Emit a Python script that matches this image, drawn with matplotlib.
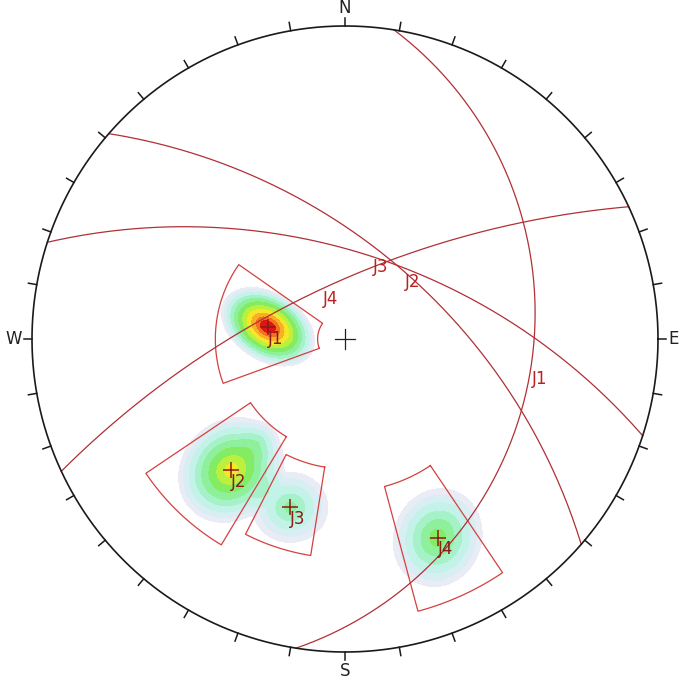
import numpy as np
import matplotlib.pyplot as plt

# joint sets: mean poles (trend / plunge, degrees)
sets = ['J1', 'J2', 'J3', 'J4']
pole_trend = [279, 221, 198, 155]
pole_plunge = [62, 32, 31, 20]

# set windows (trend range, plunge range)
win_trend_min = [250, 211, 189, 146]
win_trend_max = [305, 236, 207, 165]
win_plunge_min = [45, 15, 20, 6]
win_plunge_max = [80, 50, 45, 38]

# pole concentrations used for the density contours
# (centre trend/plunge, reach along / across the long axis in primitive radii)
dens_trend = [279, 221, 220, 198, 155]
dens_plunge = [62, 32, 44, 31, 20]
dens_reach_major = [0.168, 0.190, 0.085, 0.134, 0.172]
dens_reach_minor = [0.112, 0.165, 0.065, 0.125, 0.152]
dens_axis = [122, 45, 45, 90, 20]
dens_weight = [1.08, 0.70, 0.09, 0.38, 0.50]

levels = [0.04, 0.1, 0.17, 0.25, 0.33, 0.42, 0.52, 0.62, 0.72, 0.82, 0.92, 5]
band_colors = ['#e9ecf4', '#d8eef2', '#c3f2e8', '#a6f2c8', '#8ef09a', '#84ec62',
               '#bdf03c', '#f6e828', '#f8b028', '#f4701e', '#e01410']

gc_color = '#b03036'
win_color = '#d4403f'


def proj(trend, plunge):
    # equal angle, lower hemisphere
    t = np.radians(trend)
    r = np.tan(np.radians(90 - np.asarray(plunge)) / 2)
    return r * np.sin(t), r * np.cos(t)


def great_circle(dipdir, dip):
    a = np.linspace(0, np.pi, 200)
    dd, d = np.radians(dipdir), np.radians(dip)
    s = np.array([np.sin(dd - np.pi / 2), np.cos(dd - np.pi / 2), 0.0])
    dv = np.array([np.sin(dd) * np.cos(d), np.cos(dd) * np.cos(d), -np.sin(d)])
    v = np.outer(np.cos(a), s) + np.outer(np.sin(a), dv)
    return v[:, 0] / (1 - v[:, 2]), v[:, 1] / (1 - v[:, 2])


fig = plt.figure(figsize=(6.85, 6.83), dpi=100)
ax = fig.add_axes([0, 0, 1, 1])
ax.set_xlim(-345 / 313, 340 / 313)
ax.set_ylim(-344 / 313, 339 / 313)
ax.axis('off')

# density
g = np.linspace(-1, 1, 800)
X, Y = np.meshgrid(g, g)
Z = np.zeros_like(X)
for t, p, sa, sb, ang, w in zip(dens_trend, dens_plunge, dens_reach_major,
                                dens_reach_minor, dens_axis, dens_weight):
    cx, cy = proj(t, p)
    ua = np.radians(ang)
    u = (X - cx) * np.sin(ua) + (Y - cy) * np.cos(ua)
    v = (X - cx) * np.cos(ua) - (Y - cy) * np.sin(ua)
    d = np.sqrt((u / sa) ** 2 + (v / sb) ** 2)
    Z += w * np.clip(1 - d, 0, None)
Z[X ** 2 + Y ** 2 > 1] = np.nan
ax.contourf(X, Y, Z, levels=levels, colors=band_colors, zorder=1)

# primitive circle and ticks
th = np.linspace(0, 2 * np.pi, 500)
ax.plot(np.cos(th), np.sin(th), color='#1a1a1a', lw=1.2, zorder=5)
for az in range(0, 360, 10):
    a = np.radians(az)
    ax.plot([np.sin(a), 1.027 * np.sin(a)], [np.cos(a), 1.027 * np.cos(a)],
            color='#1a1a1a', lw=1.1, zorder=5)
kw = dict(fontsize=12, color='#222222', zorder=6)
ax.text(0, 1.03, 'N', ha='center', va='bottom', **kw)
ax.text(0, -1.032, 'S', ha='center', va='top', **kw)
ax.text(1.032, 0, 'E', ha='left', va='center', **kw)
ax.text(-1.032, 0, 'W', ha='right', va='center', **kw)

# centre cross
c = 10 / 313
ax.plot([-c, c], [0, 0], color='#222222', lw=0.9, zorder=6)
ax.plot([0, 0], [-c, c], color='#222222', lw=0.9, zorder=6)

for i, name in enumerate(sets):
    # window
    t1, t2 = win_trend_min[i], win_trend_max[i]
    p1, p2 = win_plunge_min[i], win_plunge_max[i]
    tt = np.linspace(t1, t2, 60)
    ix, iy = proj(tt, np.full_like(tt, p2))
    ox, oy = proj(tt[::-1], np.full_like(tt, p1))
    wx = np.concatenate([ix, ox, ix[:1]])
    wy = np.concatenate([iy, oy, iy[:1]])
    ax.plot(wx, wy, color=win_color, lw=0.9, zorder=3)

    # great circle of the mean plane
    dipdir = (pole_trend[i] + 180) % 360
    dip = 90 - pole_plunge[i]
    gx, gy = great_circle(dipdir, dip)
    ax.plot(gx, gy, color=gc_color, lw=0.9, zorder=4)
    lx, ly = proj(dipdir, dip)
    ax.annotate(name, (lx, ly), xytext=(1, -1), textcoords='offset points',
                ha='left', va='top', fontsize=12, color='#b82222', zorder=7)

    # mean pole
    px, py = proj(pole_trend[i], pole_plunge[i])
    ax.plot(px, py, marker='+', ms=11, mew=1.1, color='#8b1a1a', zorder=7)
    ax.annotate(name, (px, py), xytext=(0, -2), textcoords='offset points',
                ha='left', va='top', fontsize=12, color='#8b1a1a', zorder=7)

fig.savefig('out.png', dpi=100)
